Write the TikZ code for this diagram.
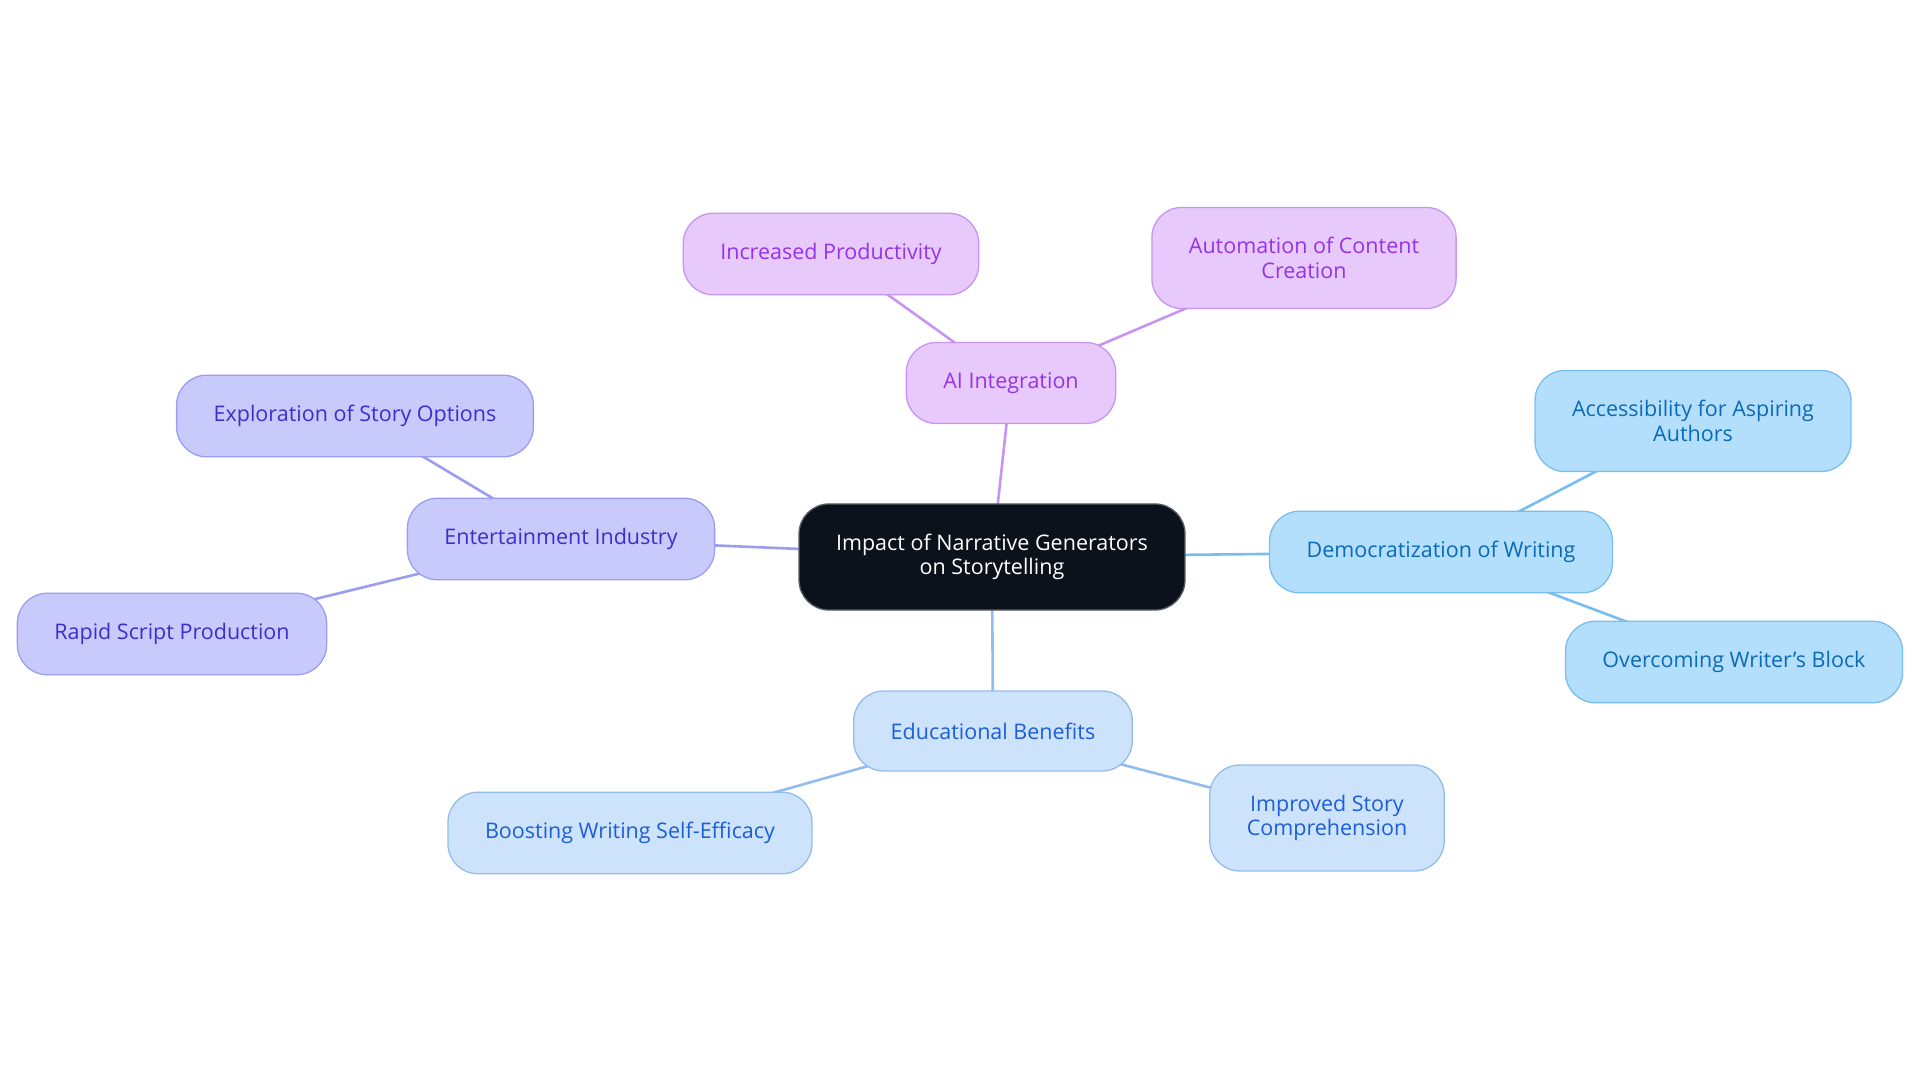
\documentclass[tikz,border=0pt]{standalone}
\usepackage{fontspec}
\setmainfont{Open Sans}
\usetikzlibrary{backgrounds}

\definecolor{rootfill}{HTML}{0C121C}
\definecolor{rootdraw}{HTML}{5A5F66}
\definecolor{aifill}{HTML}{E7C9FC}
\definecolor{aidraw}{HTML}{C894F2}
\definecolor{aitext}{HTML}{9533E6}
\definecolor{entfill}{HTML}{C8CAFC}
\definecolor{entdraw}{HTML}{9B9DF0}
\definecolor{enttext}{HTML}{3B2FCB}
\definecolor{demofill}{HTML}{B4DFFC}
\definecolor{demodraw}{HTML}{78BDF0}
\definecolor{demotext}{HTML}{0A6AB5}
\definecolor{edufill}{HTML}{CDE3FB}
\definecolor{edudraw}{HTML}{93BCEE}
\definecolor{edutext}{HTML}{1D5ED5}

\begin{document}
\begin{tikzpicture}[x=1pt,y=-1pt,
    every node/.append style={draw,line width=1.3pt,rounded corners=30pt,
      align=center,inner xsep=37pt,inner ysep=30pt,minimum height=80pt,
      font=\fontsize{21.5}{24.5}\selectfont},
    root/.style={fill=rootfill,draw=rootdraw,text=white,inner xsep=37pt},
    ai/.style={fill=aifill,draw=aidraw,text=aitext},
    ent/.style={fill=entfill,draw=entdraw,text=enttext},
    demo/.style={fill=demofill,draw=demodraw,text=demotext},
    edu/.style={fill=edufill,draw=edudraw,text=edutext},
    link/.style={line width=2.6pt}]
    \useasboundingbox (0,0) rectangle (1920,1083);

    \node[root] (impact) at (992,557) {Impact of Narrative Generators\\on Storytelling};

    \node[ai] (aiint) at (1011,383) {AI Integration};
    \node[ai] (prod) at (831,254) {Increased Productivity};
    \node[ai] (autom) at (1304,258) {Automation of Content\\Creation};

    \node[ent] (entind) at (561,539) {Entertainment Industry};
    \node[ent] (explor) at (355,416) {Exploration of Story Options};
    \node[ent] (rapid) at (172,634) {Rapid Script Production};

    \node[demo] (democ) at (1441,552) {Democratization of Writing};
    \node[demo] (access) at (1693,421) {Accessibility for Aspiring\\Authors};
    \node[demo] (block) at (1734,662) {Overcoming Writer's Block};

    \node[edu] (educ) at (993,731) {Educational Benefits};
    \node[edu] (boost) at (630,833) {Boosting Writing Self-Efficacy};
    \node[edu] (compr) at (1327,818) {Improved Story\\Comprehension};

    \begin{scope}[on background layer]
    \path[link]
        (impact.center) edge[draw=aidraw] (aiint.center)
        (aiint.center) edge[draw=aidraw] (prod.center)
        (aiint.center) edge[draw=aidraw] (autom.center)
        (impact.center) edge[draw=entdraw] (entind.center)
        (entind.center) edge[draw=entdraw] (explor.center)
        (entind.center) edge[draw=entdraw] (rapid.center)
        (impact.center) edge[draw=demodraw] (democ.center)
        (democ.center) edge[draw=demodraw] (access.center)
        (democ.center) edge[draw=demodraw] (block.center)
        (impact.center) edge[draw=edudraw] (educ.center)
        (educ.center) edge[draw=edudraw] (boost.center)
        (educ.center) edge[draw=edudraw] (compr.center);
    \end{scope}
\end{tikzpicture}
\end{document}
